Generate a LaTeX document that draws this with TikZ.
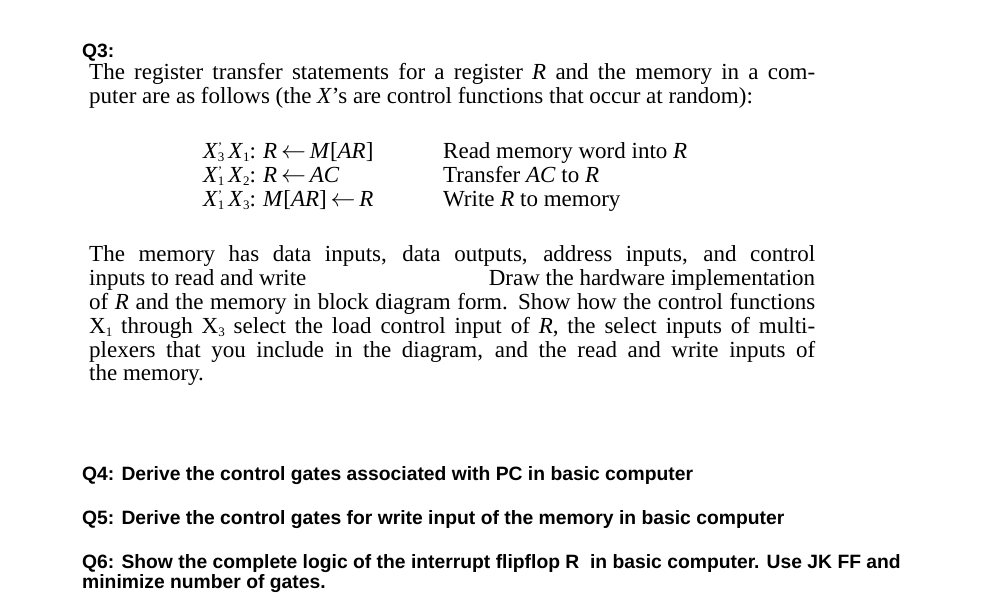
\documentclass[tikz,border=0pt]{standalone}
\usepackage{fontspec}
\setmainfont{Liberation Serif}
\newfontfamily\qfont{Liberation Sans}
\begin{document}
\begin{tikzpicture}[x=1pt,y=-1pt,
 ln/.style={anchor=base west,inner sep=0pt,font=\fontsize{23}{26}\selectfont},
 qn/.style={anchor=base west,inner sep=0pt,font=\qfont\bfseries\fontsize{19.3}{22}\selectfont}]
\useasboundingbox[fill=white] (0,0) rectangle (992,614);
\def\J#1{\makebox[726pt][s]{#1}}
\def\sm#1{{\fontsize{13}{13}\selectfont#1}}
\def\X#1#2{\textit{X}\rlap{\raisebox{7pt}{\sm{'}}}\raisebox{-3pt}{\sm{#1}}\,\textit{X}\raisebox{-3pt}{\sm{#2}}:}
\node[qn] (q3) at (82,57) {Q3:};
\node[ln] (l1) at (89,79) {\J{The register transfer statements for a register \textit{R} and the memory in a com-}};
\node[ln] (l2) at (89,103) {puter are as follows (the \textit{X}'s are control functions that occur at random):};
\node[ln] (e1) at (203,158) {\X31};
\node[ln] (e2) at (203,182) {\X12};
\node[ln] (e3) at (203,206) {\X13};
\node[ln] (r1) at (263,158) {\textit{R}\,$\leftarrow$\,\textit{M}[\textit{AR}]};
\node[ln] (r2) at (263,182) {\textit{R}\,$\leftarrow$\,\textit{AC}};
\node[ln] (r3) at (263,206) {\textit{M}[\textit{AR}]\,$\leftarrow$\,\textit{R}};
\node[ln] (d1) at (443,158) {Read memory word into \textit{R}};
\node[ln] (d2) at (443,182) {Transfer \textit{AC} to \textit{R}};
\node[ln] (d3) at (443,206) {Write \textit{R} to memory};
\node[ln] (p1) at (89,261) {\J{The memory has data inputs, data outputs, address inputs, and control}};
\node[ln] (p2) at (89,285) {\makebox[726pt][l]{inputs to read and write\hfill Draw the hardware implementation}};
\node[ln] (p3) at (89,309) {\J{of \textit{R} and the memory in block diagram form. Show how the control functions}};
\node[ln] (p4) at (89,333) {\J{X\raisebox{-3pt}{\sm{1}} through X\raisebox{-3pt}{\sm{3}} select the load control input of \textit{R}, the select inputs of multi-}};
\node[ln] (p5) at (89,357) {\J{plexers that you include in the diagram, and the read and write inputs of}};
\node[ln] (p6) at (89,380) {the memory.};
\node[qn] (q4) at (82,480) {Q4: Derive the control gates associated with PC in basic computer};
\node[qn] (q5) at (82,524) {Q5: Derive the control gates for write input of the memory in basic computer};
\node[qn] (q6) at (82,568) {Q6: Show the complete logic of the interrupt flipflop R\ \ in basic computer. Use JK FF and};
\node[qn] (q6b) at (82,588) {minimize number of gates.};
\end{tikzpicture}
\end{document}
